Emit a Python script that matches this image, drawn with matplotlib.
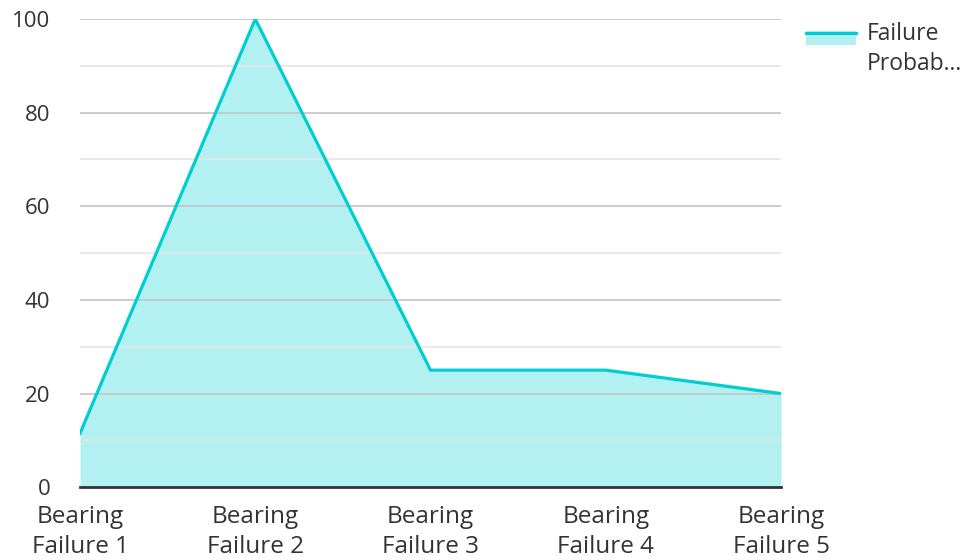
import numpy as np
import matplotlib.pyplot as plt
from matplotlib.patches import Rectangle
from matplotlib.lines import Line2D
from matplotlib.legend_handler import HandlerBase

plt.rcParams['font.family'] = ['Open Sans', 'DejaVu Sans']

# data
categories = ['Bearing\nFailure 1', 'Bearing\nFailure 2', 'Bearing\nFailure 3',
              'Bearing\nFailure 4', 'Bearing\nFailure 5']
failure_prob = [11.5, 100, 25, 25, 20]
series_label = 'Failure\nProbab...'
y_ticks = [0, 20, 40, 60, 80, 100]

line_col = '#00CED1'
txt_col = '#333333'


class AreaHandler(HandlerBase):
    # filled box with the line along its top edge, next to the first text line
    def create_artists(self, legend, orig, xd, yd, w, h, fontsize, trans):
        y0 = yd + 0.6 * fontsize
        r = Rectangle((xd, y0), w, h, facecolor=line_col,
                      alpha=0.3, lw=0, transform=trans)
        l = Line2D([xd, xd + w], [y0 + 0.85 * h, y0 + 0.85 * h], color=line_col,
                   lw=2.3, transform=trans)
        return [r, l]


fig = plt.figure(figsize=(9.71, 5.6), dpi=100)
ax = fig.add_axes([0.0824, 0.130, 0.722, 0.836])

x = np.arange(len(categories))
ax.fill_between(x, failure_prob, 0, color=line_col, alpha=0.3, lw=0, zorder=1)
area_line, = ax.plot(x, failure_prob, color=line_col, lw=2.3, zorder=3)

ax.set_xlim(0, len(categories) - 1)
ax.set_ylim(0, 100)
ax.set_yticks(y_ticks)
ax.set_yticks(np.arange(10, 100, 20), minor=True)
ax.set_xticks(x)
ax.set_xticklabels(categories)

ax.grid(axis='y', which='major', color='#c4c4c4', lw=1.2, zorder=2)
ax.grid(axis='y', which='minor', color='#e6e6e6', lw=1.2, zorder=2)
ax.set_axisbelow(False)
for s in ['top', 'right', 'left']:
    ax.spines[s].set_visible(False)
ax.spines['bottom'].set_color('#333333')
ax.spines['bottom'].set_linewidth(2)
ax.spines['bottom'].set_zorder(4)

ax.tick_params(axis='both', which='both', length=0, colors=txt_col)
ax.tick_params(axis='y', pad=21.5, labelsize=16)
ax.tick_params(axis='x', pad=13, labelsize=17.5)
for t in ax.get_yticklabels():
    t.set_horizontalalignment('right')
for t in ax.get_xticklabels():
    t.set_linespacing(1.3)

leg = ax.legend([area_line], [series_label], loc='upper left',
                bbox_to_anchor=(1.006, 1.037), frameon=False, fontsize=16.5,
                handlelength=2.2, handleheight=0.6, handletextpad=0.45,
                labelcolor=txt_col, handler_map={Line2D: AreaHandler()})
for t in leg.get_texts():
    t.set_linespacing(1.3)

plt.savefig('out.png', dpi=100)
